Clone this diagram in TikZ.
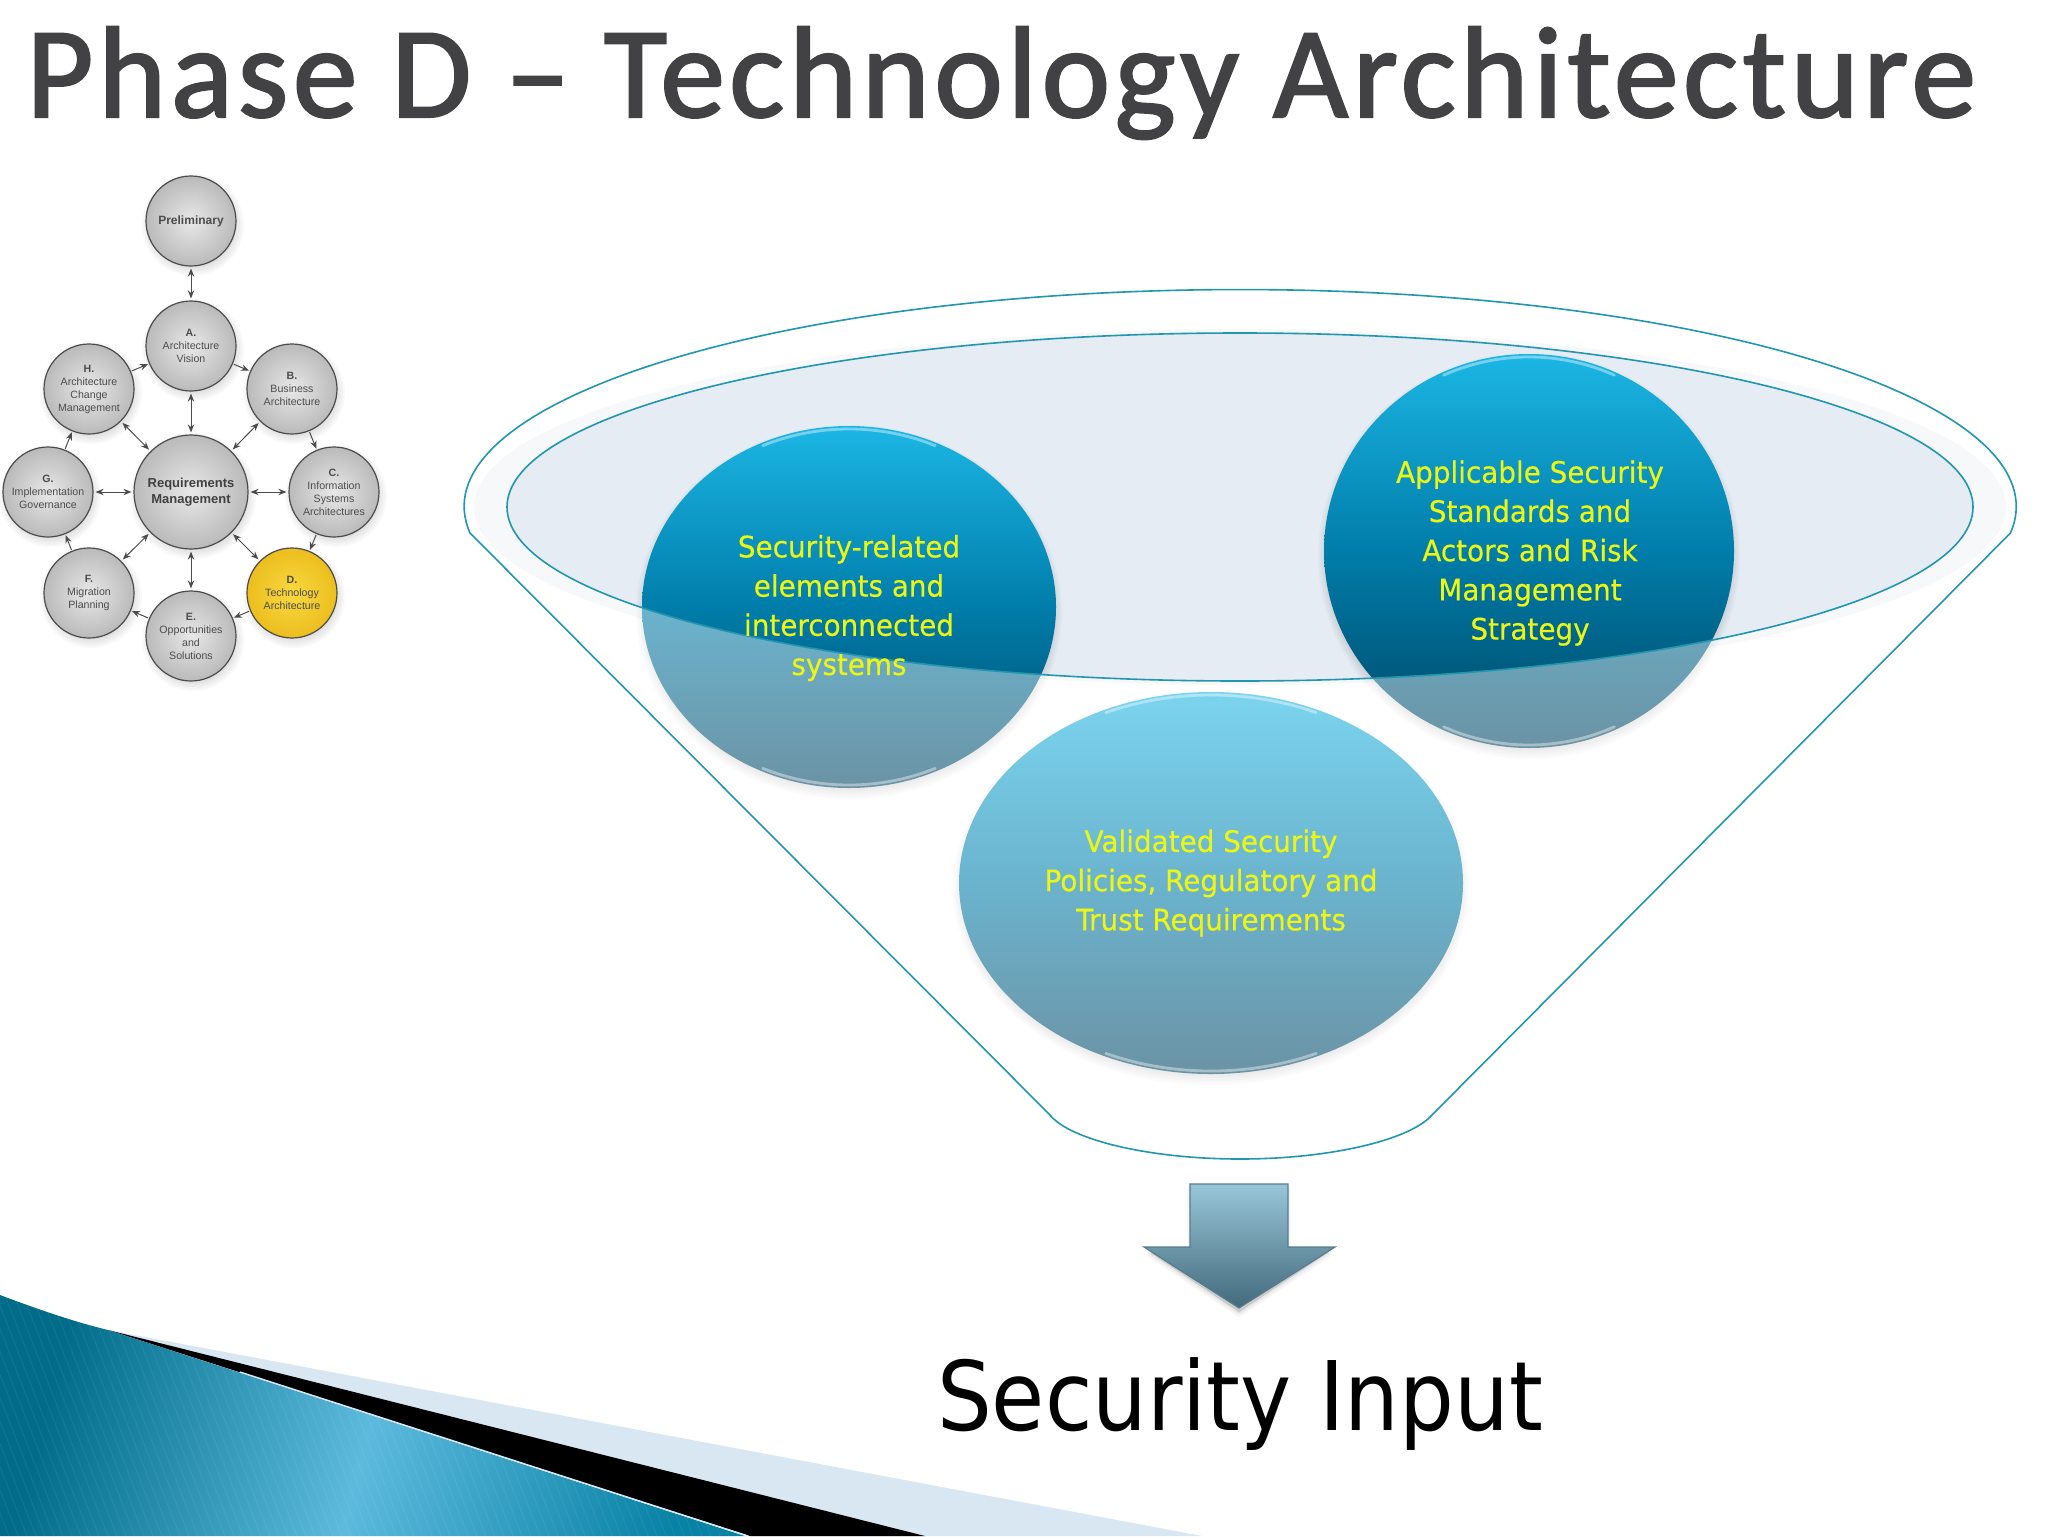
\documentclass[tikz,border=0pt]{standalone}
\usepackage{fontspec}
\setmainfont{DejaVu Sans}[FakeStretch=0.9]
\newfontfamily\bodyfont{DejaVu Sans}[FakeStretch=0.94,FakeBold=0.4]
\newfontfamily\titlefont{Carlito}[LetterSpace=3.45,FakeBold=1.6]
\newfontfamily\smallfont{Liberation Sans}
\usetikzlibrary{shapes.geometric,arrows.meta}
\definecolor{tealline}{RGB}{32,150,175}
\definecolor{bodyyellow}{RGB}{236,246,20}
\definecolor{titlegrey}{RGB}{66,66,68}
\definecolor{bubbletop}{RGB}{28,182,228}
\definecolor{bubblemid}{RGB}{0,125,170}
\definecolor{bubblebot}{RGB}{0,70,100}
\definecolor{bandfill}{RGB}{241,244,248}
\definecolor{lensfill}{RGB}{230,236,244}
\definecolor{cornerlight}{RGB}{216,231,241}
\definecolor{cornerdark}{RGB}{0,108,138}
\definecolor{cornermid}{RGB}{92,186,221}
\definecolor{cornerend}{RGB}{8,130,165}
\definecolor{arrowtop}{RGB}{152,198,216}
\definecolor{arrowbot}{RGB}{66,106,124}
\definecolor{arrowedge}{RGB}{88,124,140}
\definecolor{discin}{RGB}{232,232,232}
\definecolor{discout}{RGB}{186,186,186}
\definecolor{activein}{RGB}{248,216,64}
\definecolor{activeout}{RGB}{236,190,30}
\newcommand{\softshadow}[4]{%
  \foreach \k in {0,2,...,10}{\fill[black,opacity=0.025] (#1,#2) ellipse [x radius=#3+\k-4,y radius=#4+\k-4];}}
\tikzset{
  phase/.style={circle,draw=black!70,line width=0.6pt,minimum size=45pt,inner sep=0,shading=radial,inner color=discin,outer color=discout,align=center,font=\smallfont\fontsize{5.3}{6.5}\selectfont,text=black!70},
  hub/.style={phase,minimum size=57pt,font=\smallfont\bfseries\fontsize{6.5}{8}\selectfont,text=black!75},
  active/.style={phase,inner color=activein,outer color=activeout},
  link/.style={{Stealth[length=4pt,width=3.2pt]}-{Stealth[length=4pt,width=3.2pt]},draw=black!70,line width=0.5pt,shorten >=1pt,shorten <=1pt},
  flow/.style={-{Stealth[length=4pt,width=3.2pt]},draw=black!70,line width=0.5pt,shorten >=0.5pt,shorten <=0.5pt},
  bubble/.style={ellipse,inner sep=0,top color=bubbletop,bottom color=bubblebot,middle color=bubblemid},
  bodytext/.style={text=bodyyellow,align=center,font=\bodyfont\fontsize{14.8}{19.6}\selectfont,inner sep=0},
  rim/.style={white,opacity=0.4,line width=1.4pt,line cap=round}
}
\begin{document}
\begin{tikzpicture}[x=0.5pt,y=-0.5pt]
\useasboundingbox (0,0) rectangle (2048,1536);
\fill[white] (0,0) rectangle (2048,1536);

% corner decoration
\fill[cornerlight] (108,1330) -- (1202,1536) -- (750,1536) -- cycle;
\fill[black] (108,1330) -- (925,1536) -- (750,1536) -- cycle;
\begin{scope}
  \clip (0,1295) .. controls (40,1310) and (75,1322) .. (108,1330) -- (745,1536) -- (0,1536) -- cycle;
  \shade[left color=cornerdark,right color=cornerend,middle color=cornermid,shading angle=75] (0,1295) rectangle (745,1536);
  \foreach \s in {0,9,...,900}{\draw[white,opacity=0.06,line width=0.5pt] (\s-100,1280) -- (\s,1536);}
\end{scope}
\draw[cornerlight,line width=0.7pt] (240,1372) -- (748,1536);

% title
\node[anchor=base west,inner sep=0,text=titlegrey,font=\titlefont\fontsize{65}{65}\selectfont] (title) at (26,117) {Phase D – Technology Architecture};

% funnel background
\fill[bandfill] (1240,507) ellipse [x radius=766,y radius=178];
\fill[lensfill] (1240,507) ellipse [x radius=733,y radius=174];

% bubbles
\softshadow{849}{612}{207}{181}
\softshadow{1529}{556}{205}{197}
\softshadow{1211}{888}{252}{191}
\node[bubble,minimum width=207pt,minimum height=181pt] (left) at (849,607) {};
\node[bubble,minimum width=205pt,minimum height=197pt] (right) at (1529,551) {};
\node[bubble,minimum width=252pt,minimum height=191pt] (bottom) at (1211,883) {};
\draw[rim] (849,607) ++(245:204 and 178) arc [start angle=245,end angle=295,x radius=204,y radius=178];
\draw[rim] (1529,551) ++(245:202 and 194) arc [start angle=245,end angle=295,x radius=202,y radius=194];
\draw[rim] (1211,883) ++(245:249 and 188) arc [start angle=245,end angle=295,x radius=249,y radius=188];
\draw[rim] (849,607) ++(65:204 and 178) arc [start angle=65,end angle=115,x radius=204,y radius=178];
\draw[rim] (1529,551) ++(65:202 and 194) arc [start angle=65,end angle=115,x radius=202,y radius=194];
\draw[rim] (1211,883) ++(65:249 and 188) arc [start angle=65,end angle=115,x radius=249,y radius=188];

% funnel veil and outlines
\fill[white,opacity=0.42,even odd rule]
  (470,533) arc [start angle=173,end angle=367,x radius=776,y radius=217]
  -- (1432,1115) .. controls (1410,1140) and (1330,1159) .. (1240,1159)
  .. controls (1150,1159) and (1070,1140) .. (1050,1115) -- cycle
  (1240,507) ellipse [x radius=733,y radius=174];
\draw[tealline,line width=0.8pt]
  (470,533) arc [start angle=173,end angle=367,x radius=776,y radius=217]
  -- (1432,1115) .. controls (1410,1140) and (1330,1159) .. (1240,1159)
  .. controls (1150,1159) and (1070,1140) .. (1050,1115) -- cycle;
\draw[tealline,line width=0.8pt] (1240,507) ellipse [x radius=733,y radius=174];

% bubble texts
\node[bodytext] (ltext) at (849,608) {Security-related\\elements and\\interconnected\\systems};
\node[bodytext] (rtext) at (1530,553) {Applicable Security\\Standards and\\Actors and Risk\\Management\\Strategy};
\node[bodytext] (btext) at (1211,883) {Validated Security\\Policies, Regulatory and\\Trust Requirements};

% arrow
\foreach \k in {0,2,...,10}{\fill[black,opacity=0.02,line join=round,line width=\k*0.5pt,draw=black] (1192,1190) -- (1286,1190) -- (1286,1253) -- (1327,1253) -- (1239,1312) -- (1151,1253) -- (1192,1253) -- cycle;}
\shade[top color=arrowtop,bottom color=arrowbot,draw=arrowedge,line width=0.6pt]
  (1190,1184) -- (1288,1184) -- (1288,1247) -- (1335,1247) -- (1239,1308) -- (1144,1247) -- (1190,1247) -- cycle;

% result label
\node[anchor=base,inner sep=0,text=black,font=\fontsize{48}{48}\selectfont] (result) at (1240,1430) {Security Input};

% ADM wheel
\foreach \cx/\cy/\r in {191/221/45,191/346/45,292/389/45,334/492/45,292/593/45,191/636/45,89/593/45,48/492/45,89/389/45,191/492/57}{\softshadow{\cx+2}{\cy+4}{\r}{\r}}
\node[phase,font=\smallfont\bfseries\fontsize{6}{7}\selectfont] (pre) at (191,221) {Preliminary};
\node[phase] (a) at (191,346) {\textbf{A.}\\Architecture\\Vision};
\node[phase] (b) at (292,389) {\textbf{B.}\\Business\\Architecture};
\node[phase] (c) at (334,492) {\textbf{C.}\\Information\\Systems\\Architectures};
\node[phase,active] (d) at (292,593) {\textbf{D.}\\Technology\\Architecture};
\node[phase] (e) at (191,636) {\textbf{E.}\\Opportunities\\and\\Solutions};
\node[phase] (f) at (89,593) {\textbf{F.}\\Migration\\Planning};
\node[phase] (g) at (48,492) {\textbf{G.}\\Implementation\\Governance};
\node[phase] (h) at (89,389) {\textbf{H.}\\Architecture\\Change\\Management};
\node[hub] (req) at (191,492) {Requirements\\Management};
\draw[link] (pre) -- (a);
\foreach \n in {a,b,c,d,e,f,g,h}{\draw[link] (req) -- (\n);}
\draw[flow] (a) -- (b);
\draw[flow] (b) -- (c);
\draw[flow] (c) -- (d);
\draw[flow] (d) -- (e);
\draw[flow] (e) -- (f);
\draw[flow] (f) -- (g);
\draw[flow] (g) -- (h);
\draw[flow] (h) -- (a);
\end{tikzpicture}
\end{document}
